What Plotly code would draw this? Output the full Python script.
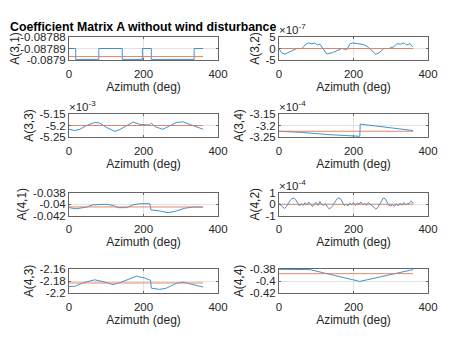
import plotly.graph_objects as go
from plotly.subplots import make_subplots

# ---------------- data ----------------
azimuth_31 = [0, 18, 80, 143, 197, 221, 336, 360]
a31 = [-0.08789, -0.0878995, -0.08789, -0.0878995, -0.08789, -0.0878995, -0.08789, -0.08789]
a31_mean = -0.087897

azimuth_32 = [0, 7, 16, 34, 48, 61, 70, 79, 88, 97, 103, 110, 119, 128, 142, 155, 169, 182, 191,
              200, 213, 227, 236, 249, 260, 272, 281, 294, 308, 317, 326, 335, 343, 352, 359]
a32 = [0, -1.9, -2.4, -1.0, 0, 0, 1.5, 2.4, 2.1, 2.4, 1.5, 1.9, 0, -2.4, -1.9, -1.0, 0, -0.5, 2.1,
       2.4, 2.1, 1.7, 1.0, -0.7, -2.5, -1.5, 0, 0, 0.7, 2.1, 1.9, 2.4, 1.5, 2.1, 0.7]   # x 1e-7
a32_mean = 0.0

azimuth_33 = [0, 15, 29, 47, 69, 82, 100, 123, 136, 158, 172, 190, 215, 219, 221, 226, 234, 252,
              270, 288, 306, 324, 346, 360]
a33 = [-5.2165, -5.222, -5.2165, -5.2, -5.1865, -5.189, -5.208, -5.2255, -5.218, -5.196, -5.185,
       -5.195, -5.198, -5.192, -5.19, -5.198, -5.207, -5.2165, -5.203, -5.187, -5.184, -5.196,
       -5.21, -5.2165]   # x 1e-3
a33_mean = -5.2

azimuth_34 = [0, 60, 137, 212, 217, 218, 244, 300, 360]
a34 = [-3.225, -3.230, -3.240, -3.248, -3.247, -3.194, -3.200, -3.210, -3.222]  # x 1e-4
a34_mean = -3.225

azimuth_41 = [0, 20, 47, 64, 100, 118, 132, 154, 172, 190, 217, 220, 244, 266, 288, 311, 333, 360]
a41 = [-0.0406, -0.0408, -0.0405, -0.0401, -0.0400, -0.0402, -0.0406, -0.0406, -0.0401, -0.0399,
       -0.0399, -0.0410, -0.0412, -0.0415, -0.0412, -0.0407, -0.0405, -0.0405]
a41_mean = -0.04048

azimuth_42 = list(range(0, 361, 5))
a42 = [0.05, -0.1, -0.3, -0.38, -0.2, 0.1, 0.35, 0.5, 0.55, 0.4, 0.1, -0.15, 0.05, -0.1, 0.15,
       -0.05, 0.2, 0.0, -0.2, 0.05, 0.15, -0.1, 0.25, 0.0, -0.1, 0.05, -0.25, -0.4, -0.3, -0.1,
       0.2, 0.45, 0.55, 0.5, 0.2, -0.1, 0.0, -0.15, 0.1, -0.05, 0.15, -0.1, 0.1, 0.0, 0.2, -0.05,
       0.1, -0.1, 0.15, 0.0, -0.2, -0.35, -0.42, -0.3, 0.0, 0.35, 0.55, 0.5, 0.2, -0.1, -0.15,
       -0.05, -0.2, 0.05, -0.15, 0.1, -0.1, 0.15, -0.05, 0.0, 0.1, 0.3, 0.05]   # x 1e-4
a42_mean = 0.0

azimuth_43 = [0, 15, 38, 69, 91, 118, 136, 158, 181, 203, 219, 221, 244, 261, 288, 306, 333, 360]
a43 = [-2.189, -2.189, -2.183, -2.178, -2.181, -2.186, -2.183, -2.177, -2.172, -2.175, -2.179,
       -2.192, -2.194, -2.192, -2.184, -2.182, -2.186, -2.19]
a43_mean = -2.1833

azimuth_44 = [0, 40, 83, 150, 217, 290, 360]
a44 = [-0.3805, -0.3805, -0.381, -0.3909, -0.4007, -0.3906, -0.381]
a44_mean = -0.3878

panels = [
    # (row, col, label, x, y, mean, yrange, ticks, ticktext, exponent)
    (1, 1, "A(3,1)", azimuth_31, a31, a31_mean, [-0.0879, -0.08788], [-0.0879, -0.08789, -0.08788],
     ["-0.0879", "-0.08789", "-0.08788"], None),
    (1, 2, "A(3,2)", azimuth_32, a32, a32_mean, [-5, 5], [-5, 0, 5], ["-5", "0", "5"], "-7"),
    (2, 1, "A(3,3)", azimuth_33, a33, a33_mean, [-5.25, -5.15], [-5.25, -5.2, -5.15],
     ["-5.25", "-5.2", "-5.15"], "-3"),
    (2, 2, "A(3,4)", azimuth_34, a34, a34_mean, [-3.25, -3.15], [-3.25, -3.2, -3.15],
     ["-3.25", "-3.2", "-3.15"], "-4"),
    (3, 1, "A(4,1)", azimuth_41, a41, a41_mean, [-0.042, -0.038], [-0.042, -0.04, -0.038],
     ["-0.042", "-0.04", "-0.038"], None),
    (3, 2, "A(4,2)", azimuth_42, a42, a42_mean, [-1, 1], [-1, 0, 1], ["-1", "0", "1"], "-4"),
    (4, 1, "A(4,3)", azimuth_43, a43, a43_mean, [-2.2, -2.16], [-2.2, -2.18, -2.16],
     ["-2.2", "-2.18", "-2.16"], None),
    (4, 2, "A(4,4)", azimuth_44, a44, a44_mean, [-0.42, -0.38], [-0.42, -0.4, -0.38],
     ["-0.42", "-0.4", "-0.38"], None),
]

BLUE = "#2f86c8"
ORANGE = "#e07a55"
FONT = "Liberation Sans, Arial, Helvetica, sans-serif"
TXT = "#262626"

W, H = 474, 355
OFF = 8  # page body margin shifts the figure by this many pixels
x_dom = {1: [(69 - OFF) / W, (218 - OFF) / W], 2: [(279 - OFF) / W, (428 - OFF) / W]}
rows_px = {1: (37, 60), 2: (114, 137), 3: (193, 215.5), 4: (269, 293)}
y_dom = {r: [1 - (b - OFF) / H, 1 - (t - OFF) / H] for r, (t, b) in rows_px.items()}

fig = make_subplots(rows=4, cols=2)
annotations = []
for i, (r, c, label, xs, ys, mean, yr, tv, tt, expo) in enumerate(panels):
    shape = "hv" if label == "A(3,1)" else "linear"
    fig.add_trace(go.Scatter(x=xs, y=ys, mode="lines", line=dict(color=BLUE, width=0.9, shape=shape),
                             showlegend=False, hoverinfo="skip"), row=r, col=c)
    fig.add_trace(go.Scatter(x=[0, 360], y=[mean, mean], mode="lines",
                             line=dict(color=ORANGE, width=0.9), showlegend=False,
                             hoverinfo="skip"), row=r, col=c)
    idx = "" if i == 0 else str(i + 1)
    common = dict(showline=True, linecolor="#666666", linewidth=1, mirror="ticks",
                  ticks="inside", ticklen=2, tickcolor="#666666", automargin=False,
                  showgrid=True, gridcolor="#e2e2e2", gridwidth=1, zeroline=False,
                  tickfont=dict(family=FONT, size=11.5, color=TXT))
    fig.layout["xaxis" + idx].update(domain=x_dom[c], range=[0, 400], tickvals=[0, 200, 400],
                                     ticklabelstandoff=3,
                                     title=dict(text="Azimuth (deg)", standoff=3,
                                                font=dict(family=FONT, size=12, color=TXT)),
                                     **common)
    fig.layout["yaxis" + idx].update(domain=y_dom[r], range=yr, tickvals=tv, ticktext=tt,
                                     title=dict(text=label, standoff=3,
                                                font=dict(family=FONT, size=12, color=TXT)),
                                     **common)
    if expo:
        annotations.append(dict(text="×10<sup>" + expo + "</sup>", xref="x" + idx + " domain",
                                yref="y" + idx + " domain", x=0, y=1, xanchor="left",
                                yanchor="bottom", showarrow=False, xshift=-2, yshift=-1,
                                font=dict(family=FONT, size=11.5, color=TXT)))

annotations.append(dict(text="<b>Coefficient Matrix A without wind disturbance</b>",
                        xref="paper", yref="paper", x=(8 - OFF) / W, y=1 - (27 - OFF) / H,
                        xanchor="left", yanchor="middle", showarrow=False,
                        font=dict(family=FONT, size=12.3, color="black")))

fig.update_layout(width=W, height=H, margin=dict(l=0, r=0, t=0, b=0),
                  paper_bgcolor="white", plot_bgcolor="white", annotations=annotations)

fig.write_html("out.html")
